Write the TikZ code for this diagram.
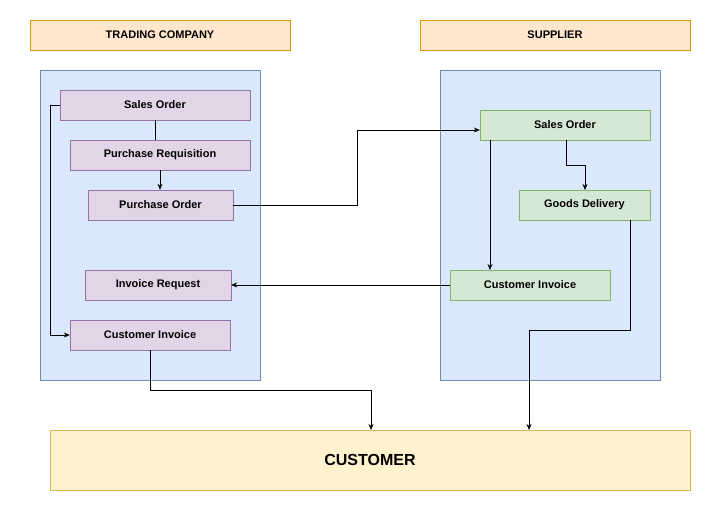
\documentclass[tikz,border=0pt]{standalone}
\usepackage{fontspec}
\setmainfont{Liberation Sans}
\usetikzlibrary{arrows.meta}
\definecolor{hdrfill}{HTML}{FFE6CC}\definecolor{hdrline}{HTML}{D79B00}
\definecolor{boxfill}{HTML}{DAE8FC}\definecolor{boxline}{HTML}{6C8EBF}
\definecolor{tcfill}{HTML}{E1D5E7}\definecolor{tcline}{HTML}{9673A6}
\definecolor{spfill}{HTML}{D5E8D4}\definecolor{spline}{HTML}{82B366}
\definecolor{cufill}{HTML}{FFF2CC}\definecolor{culine}{HTML}{D6B656}
\tikzset{
  blk/.style={draw, inner sep=0pt, font=\bfseries\fontsize{11}{13}\selectfont},
  hdr/.style={blk, fill=hdrfill, draw=hdrline},
  tc/.style={blk, fill=tcfill, draw=tcline, minimum height=30pt},
  sp/.style={blk, fill=spfill, draw=spline, minimum height=30pt},
  flow/.style={-{Stealth[length=6pt,width=5pt]}, line width=0.6pt},
}
\begin{document}
\begin{tikzpicture}[x=1pt,y=-1pt]
  \useasboundingbox (0,0) rectangle (721,521);
  % headers and lanes
  \node[hdr, minimum width=260pt, minimum height=30pt] (tchdr) at (160,35) {TRADING COMPANY};
  \node[hdr, minimum width=270pt, minimum height=30pt] (sphdr) at (555,35) {SUPPLIER};
  \draw[boxline, fill=boxfill] (40,70) rectangle (260,380);
  \draw[boxline, fill=boxfill] (440,70) rectangle (660,380);
  % trading company
  \node[tc, minimum width=190pt] (tcso) at (155,105) {Sales Order};
  \node[tc, minimum width=180pt] (tcpr) at (160,155) {Purchase Requisition};
  \node[tc, minimum width=145pt] (tcpo) at (160.5,205) {Purchase Order};
  \node[tc, minimum width=146pt] (tcir) at (158,285) {Invoice Request};
  \node[tc, minimum width=160pt] (tcci) at (150,335) {Customer Invoice};
  % supplier
  \node[sp, minimum width=170pt] (spso) at (565,125) {Sales Order};
  \node[sp, minimum width=131pt] (spgd) at (584.5,205) {Goods Delivery};
  \node[sp, minimum width=160pt] (spci) at (530,285) {Customer Invoice};
  % customer
  \node[blk, fill=cufill, draw=culine, minimum width=640pt, minimum height=60pt,
        font=\bfseries\fontsize{16}{19}\selectfont] (cust) at (370,460) {CUSTOMER};
  % connectors
  \draw[line width=0.6pt] (tcso.south) -- (tcso.south |- tcpr.north);
  \draw[flow] (tcpr.south) -- (tcpr.south |- tcpo.north);
  \draw[flow] (tcso.west) -- ++(-10,0) |- (tcci.west);
  \draw[flow] (tcpo.east) -| (357,130) -- (spso.west |- 0,130);
  \draw[flow] (566,140) |- (585,165) -- (585,190);
  \draw[flow] (490,140) -- (490,270);
  \draw[flow] (spci.west) -- (tcir.east);
  \draw[flow] (tcci.south) |- (371,390) -- (371,430);
  \draw[flow] (630,220) |- (529,330) -- (529,430);
\end{tikzpicture}
\end{document}
